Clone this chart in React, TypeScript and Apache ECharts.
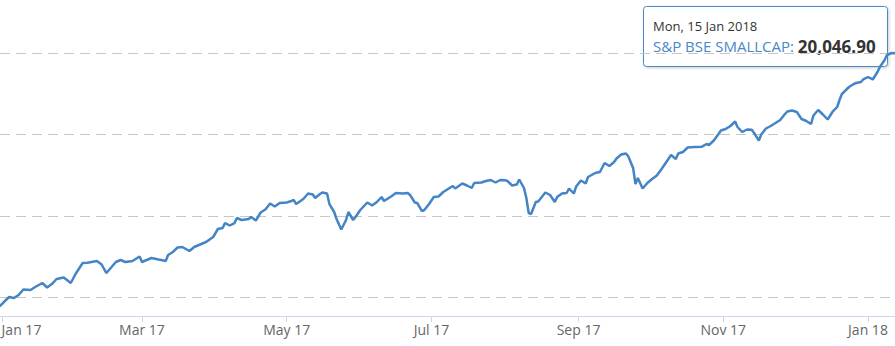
import React, { useEffect, useRef } from "react";
import * as echarts from "echarts";

const seriesName = "S&P BSE SMALLCAP";

const dates = [
  "2016-12-31", "2017-01-02", "2017-01-04", "2017-01-06", "2017-01-08", "2017-01-10", "2017-01-13", "2017-01-15",
  "2017-01-18", "2017-01-20", "2017-01-22", "2017-01-24", "2017-01-27", "2017-01-30", "2017-02-01", "2017-02-04",
  "2017-02-06", "2017-02-10", "2017-02-12", "2017-02-14", "2017-02-16", "2017-02-18", "2017-02-20", "2017-02-22",
  "2017-02-25", "2017-02-28", "2017-03-01", "2017-03-05", "2017-03-08", "2017-03-11", "2017-03-12", "2017-03-14",
  "2017-03-16", "2017-03-18", "2017-03-21", "2017-03-23", "2017-03-25", "2017-03-27", "2017-03-28", "2017-03-31",
  "2017-04-02", "2017-04-04", "2017-04-05", "2017-04-07", "2017-04-09", "2017-04-10", "2017-04-12", "2017-04-15",
  "2017-04-16", "2017-04-18", "2017-04-20", "2017-04-22", "2017-04-24", "2017-04-26", "2017-04-28", "2017-05-01",
  "2017-05-03", "2017-05-04", "2017-05-05", "2017-05-08", "2017-05-10", "2017-05-12", "2017-05-13", "2017-05-15",
  "2017-05-16", "2017-05-18", "2017-05-19", "2017-05-21", "2017-05-22", "2017-05-24", "2017-05-26", "2017-05-27",
  "2017-05-29", "2017-05-30", "2017-06-01", "2017-06-03", "2017-06-04", "2017-06-06", "2017-06-08", "2017-06-10",
  "2017-06-11", "2017-06-14", "2017-06-16", "2017-06-19", "2017-06-21", "2017-06-22", "2017-06-24", "2017-06-25",
  "2017-06-27", "2017-06-28", "2017-06-30", "2017-07-02", "2017-07-04", "2017-07-06", "2017-07-08", "2017-07-10",
  "2017-07-11", "2017-07-14", "2017-07-16", "2017-07-18", "2017-07-19", "2017-07-22", "2017-07-24", "2017-07-26",
  "2017-07-28", "2017-07-30", "2017-08-01", "2017-08-02", "2017-08-04", "2017-08-06", "2017-08-07", "2017-08-09",
  "2017-08-10", "2017-08-11", "2017-08-12", "2017-08-14", "2017-08-15", "2017-08-18", "2017-08-20", "2017-08-22",
  "2017-08-23", "2017-08-25", "2017-08-27", "2017-08-28", "2017-08-30", "2017-08-31", "2017-09-02", "2017-09-04",
  "2017-09-05", "2017-09-08", "2017-09-10", "2017-09-12", "2017-09-14", "2017-09-16", "2017-09-17", "2017-09-19",
  "2017-09-21", "2017-09-22", "2017-09-24", "2017-09-25", "2017-09-26", "2017-09-28", "2017-09-30", "2017-10-02",
  "2017-10-04", "2017-10-06", "2017-10-08", "2017-10-10", "2017-10-12", "2017-10-13", "2017-10-15", "2017-10-17",
  "2017-10-20", "2017-10-23", "2017-10-25", "2017-10-26", "2017-10-28", "2017-10-30", "2017-10-31", "2017-11-02",
  "2017-11-04", "2017-11-06", "2017-11-07", "2017-11-09", "2017-11-11", "2017-11-13", "2017-11-14", "2017-11-16",
  "2017-11-17", "2017-11-19", "2017-11-21", "2017-11-23", "2017-11-25", "2017-11-27", "2017-11-28", "2017-11-30",
  "2017-12-02", "2017-12-04", "2017-12-06", "2017-12-08", "2017-12-09", "2017-12-11", "2017-12-13", "2017-12-15",
  "2017-12-17", "2017-12-19", "2017-12-20", "2017-12-21", "2017-12-24", "2017-12-26", "2017-12-27", "2017-12-29",
  "2017-12-30", "2018-01-01", "2018-01-03", "2018-01-05", "2018-01-06", "2018-01-08", "2018-01-09", "2018-01-11",
  "2018-01-12", "2018-01-15",
];

const values = [
  12217, 12370, 12509, 12478, 12570, 12739, 12724, 12816,
  12939, 12801, 12908, 13062, 13108, 12939, 13216, 13554,
  13560, 13615, 13508, 13246, 13415, 13585, 13646, 13585,
  13615, 13754, 13585, 13708, 13661, 13615, 13800, 13892,
  14030, 14046, 13923, 14046, 14107, 14169, 14199, 14353,
  14599, 14630, 14783, 14707, 14783, 14937, 14876, 14906,
  14968, 14860, 15106, 15198, 15383, 15291, 15398, 15414,
  15460, 15490, 15367, 15521, 15690, 15660, 15552, 15675,
  15721, 15690, 15367, 15122, 14906, 14584, 14876, 15122,
  14876, 14968, 15183, 15337, 15414, 15321, 15429, 15583,
  15460, 15598, 15706, 15690, 15706, 15644, 15414, 15398,
  15152, 15183, 15367, 15583, 15598, 15736, 15829, 15921,
  15844, 15998, 15936, 15859, 16013, 16028, 16075, 16105,
  16028, 16105, 16100, 16075, 15936, 15967, 16121, 15859,
  15552, 15091, 15060, 15429, 15444, 15721, 15644, 15429,
  15583, 15690, 15706, 15844, 15690, 15905, 16090, 15998,
  16198, 16320, 16351, 16628, 16536, 16659, 16766, 16889,
  16920, 16828, 16474, 15982, 16167, 15844, 16013, 16136,
  16244, 16443, 16659, 16874, 16751, 16920, 16966, 17104,
  17120, 17130, 17212, 17181, 17320, 17519, 17627, 17673,
  17765, 17904, 17734, 17581, 17658, 17650, 17550, 17320,
  17504, 17688, 17765, 17857, 17950, 18134, 18211, 18242,
  18196, 17980, 17919, 17827, 18088, 18257, 18119, 17965,
  18196, 18349, 18564, 18749, 18964, 19056, 19087, 19118,
  19195, 19271, 19195, 19425, 19579, 19794, 19948, 20009,
  20000, 20046.9,
];

const tickDates = [
  "2017-01-01", "2017-03-01", "2017-05-01", "2017-07-01", "2017-09-01", "2017-11-01", "2018-01-01",
];

const MONTHS = ["Jan", "Feb", "Mar", "Apr", "May", "Jun", "Jul", "Aug", "Sep", "Oct", "Nov", "Dec"];
const DAYS = ["Sun", "Mon", "Tue", "Wed", "Thu", "Fri", "Sat"];

const FONT = "'Open Sans', 'Noto Sans', sans-serif";
const LINE_COLOR = "#4584c5";

export default function App() {
  const ref = useRef<HTMLDivElement>(null);

  useEffect(() => {
    document.body.style.margin = "0";
    const chart = echarts.init(ref.current as HTMLDivElement, null, { renderer: "svg" });

    const DAY = 86400000;
    const PX_PER_DAY = 2.3726;
    const xMin = Date.parse("2017-01-01") - (2 / PX_PER_DAY) * DAY;
    const xMax = xMin + (895 / PX_PER_DAY) * DAY;
    const tickValues = tickDates.map((d) => Date.parse(d));
    const firstTick = tickValues[0];

    const data = dates.map((d, i) => [Date.parse(d), values[i]]);

    const lastDate = new Date(Date.parse(dates[dates.length - 1]));
    const lastVal = values[values.length - 1];
    const headerText =
      DAYS[lastDate.getUTCDay()] + ", " + lastDate.getUTCDate() + " " +
      MONTHS[lastDate.getUTCMonth()] + " " + lastDate.getUTCFullYear();
    const valText = lastVal.toLocaleString("en-US", { minimumFractionDigits: 2, maximumFractionDigits: 2 });

    const fmt = (v: number) => {
      const d = new Date(v);
      const s = MONTHS[d.getUTCMonth()] + " " + String(d.getUTCFullYear()).slice(2);
      return v === firstTick ? "{first|" + s + "}" : s;
    };

    chart.setOption({
      animation: false,
      grid: { left: 0, right: 0, top: 0, bottom: 30, containLabel: false, outerBoundsMode: "none" },
      xAxis: {
        type: "value",
        min: xMin,
        max: xMax,
        splitLine: { show: false },
        axisLine: { show: true, lineStyle: { color: "#ccd6eb", width: 1 } },
        axisTick: { show: true, customValues: tickValues, length: 6, lineStyle: { color: "#ccd6eb" } },
        axisLabel: {
          customValues: tickValues,
          formatter: fmt,
          color: "#666666",
          fontSize: 14,
          fontFamily: FONT,
          margin: 6,
          rich: {
            first: { color: "#666666", fontSize: 14, fontFamily: FONT, padding: [0, 0, 0, 39] },
          },
        },
      },
      yAxis: {
        type: "value",
        min: 11925,
        max: 21638,
        minInterval: 2500,
        maxInterval: 2500,
        axisLine: { show: false },
        axisTick: { show: false },
        axisLabel: { show: false },
        splitLine: {
          show: true,
          showMinLine: false,
          showMaxLine: false,
          lineStyle: { color: "#c6c6c6", width: 1, type: [10, 6] },
        },
      },
      series: [
        {
          name: seriesName,
          type: "line",
          data,
          showSymbol: false,
          symbol: "none",
          clip: true,
          lineStyle: { color: LINE_COLOR, width: 2.5 },
          itemStyle: { color: LINE_COLOR },
        },
      ],
      graphic: [
        {
          type: "group",
          z: 100,
          children: [
            {
              type: "rect",
              shape: { x: 643.5, y: 6.5, width: 244, height: 60, r: 3 },
              style: {
                fill: "#ffffff",
                stroke: "#4a87c6",
                lineWidth: 1,
                shadowBlur: 3,
                shadowOffsetX: 1,
                shadowOffsetY: 1,
                shadowColor: "rgba(0,0,0,0.2)",
              },
            },
            {
              type: "text",
              x: 653,
              y: 26,
              style: {
                text: headerText,
                fill: "#333333",
                font: "13px " + FONT,
                verticalAlign: "middle",
                align: "left",
              },
            },
            {
              type: "text",
              x: 653,
              y: 46,
              style: {
                text: "{n|" + seriesName + ": }{v|" + valText + "}",
                verticalAlign: "middle",
                align: "left",
                rich: {
                  n: { fill: "#4a87c6", fontSize: 15, fontFamily: FONT },
                  v: { fill: "#333333", fontSize: 17, fontWeight: "bold", fontFamily: FONT },
                },
              },
            },
          ],
        },
      ],
    });

    return () => chart.dispose();
  }, []);

  return <div ref={ref} style={{ width: 895, height: 346 }} />;
}
